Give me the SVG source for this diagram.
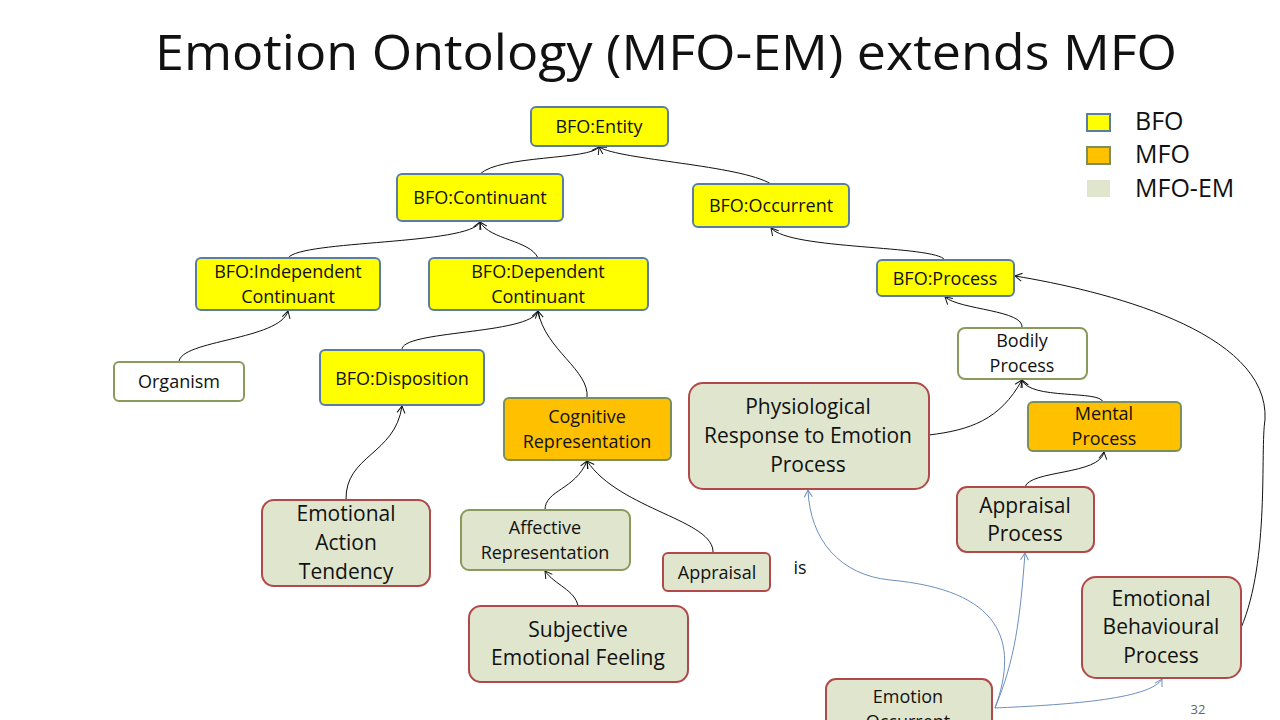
<svg xmlns="http://www.w3.org/2000/svg" width="1280" height="720" viewBox="0 0 1280 720">
<style>
text{font-family:"Open Sans","Liberation Sans",sans-serif;fill:#111;text-anchor:middle}
.b{fill:#ffff00;stroke:#5a7da6;stroke-width:2}
.m{fill:#ffc000;stroke:#7a8f5a;stroke-width:2}
.w{fill:#fff;stroke:#8a9a5b;stroke-width:2}
.g{fill:#dfe6cd;stroke:#8a9a5b;stroke-width:2}
.e{fill:#dfe6cd;stroke:#b04a4a;stroke-width:2}
.s{font-size:18px}.l{font-size:21px}
.c path{fill:none;stroke:#111;stroke-width:1}
.c path.u{stroke:#6d8fc0}
</style>
<defs>
<marker id="a" markerWidth="10" markerHeight="10" refX="8" refY="5" orient="auto" markerUnits="userSpaceOnUse"><path d="M1,1 L8,5 L1,9" fill="none" stroke="#111" stroke-width="1"/></marker>
<marker id="ab" markerWidth="10" markerHeight="10" refX="8" refY="5" orient="auto" markerUnits="userSpaceOnUse"><path d="M1,1 L8,5 L1,9" fill="none" stroke="#6d8fc0" stroke-width="1"/></marker>
</defs>
<rect width="1280" height="720" fill="#fff"/>
<text x="666" y="70" style="font-size:50px" textLength="1022" lengthAdjust="spacingAndGlyphs">Emotion Ontology (MFO-EM) extends MFO</text>
<g id="legend">
<rect x="1087" y="114" width="23" height="17" class="b" stroke-width="1.5"/><text x="1135" y="130" style="font-size:25px;text-anchor:start">BFO</text>
<rect x="1087" y="147" width="23" height="17" class="m" stroke-width="1.5"/><text x="1135" y="163" style="font-size:25px;text-anchor:start">MFO</text>
<rect x="1087" y="180" width="23" height="17" fill="#dfe6cd"/><text x="1135" y="197" style="font-size:25px;text-anchor:start">MFO-EM</text>
</g>
<g class="c">
<path d="M480,174 C500,155 590,160 599,147" marker-end="url(#a)"/>
<path d="M771,184 C740,165 620,160 599,147" marker-end="url(#a)"/>
<path d="M288,258 C300,240 470,245 480,222" marker-end="url(#a)"/>
<path d="M538,258 C530,240 490,240 480,222" marker-end="url(#a)"/>
<path d="M945,260 C935,245 790,250 771,228" marker-end="url(#a)"/>
<path d="M179,362 C180,340 280,340 288,311" marker-end="url(#a)"/>
<path d="M402,350 C400,330 530,335 538,311" marker-end="url(#a)"/>
<path d="M587,398 C590,370 545,350 538,311" marker-end="url(#a)"/>
<path d="M1022,328 C1025,310 960,310 945,297" marker-end="url(#a)"/>
<path d="M1103,402 C1100,390 1030,400 1022,380" marker-end="url(#a)"/>
<path d="M929,435 C970,430 1000,420 1022,380" marker-end="url(#a)"/>
<path d="M1025,487 C1030,470 1100,475 1104,452" marker-end="url(#a)"/>
<path d="M1241,628 C1270,560 1260,450 1265,420 C1270,330 1100,290 1015,276" marker-end="url(#a)"/>
<path d="M346,500 C345,455 395,455 402,406" marker-end="url(#a)"/>
<path d="M545,510 C545,490 575,490 587,461" marker-end="url(#a)"/>
<path d="M713,553 C715,520 620,510 587,461" marker-end="url(#a)"/>
<path d="M578,606 C575,590 555,585 545,571" marker-end="url(#a)"/>
<path class="u" d="M995,708 C1020,640 1000,590 890,580 C840,575 810,540 808,490" marker-end="url(#ab)"/>
<path class="u" d="M995,708 C1015,660 1020,620 1025,553" marker-end="url(#ab)"/>
<path class="u" d="M995,708 C1060,705 1150,700 1162,679" marker-end="url(#ab)"/>
</g>
<g id="entity"><rect x="531" y="107" width="137" height="39" rx="5" class="b"/><text x="599" y="133" class="s">BFO:Entity</text></g>
<g id="continuant"><rect x="397" y="174" width="166" height="47" rx="5" class="b"/><text x="480" y="204" class="s">BFO:Continuant</text></g>
<g id="occurrent"><rect x="693" y="184" width="156" height="43" rx="5" class="b"/><text x="771" y="212" class="s">BFO:Occurrent</text></g>
<g id="indep"><rect x="196" y="258" width="184" height="52" rx="5" class="b"/><text x="288" y="278" class="s">BFO:Independent</text><text x="288" y="303" class="s">Continuant</text></g>
<g id="dep"><rect x="429" y="258" width="219" height="52" rx="5" class="b"/><text x="538" y="278" class="s">BFO:Dependent</text><text x="538" y="303" class="s">Continuant</text></g>
<g id="process"><rect x="877" y="260" width="137" height="36" rx="5" class="b"/><text x="945" y="285" class="s">BFO:Process</text></g>
<g id="organism"><rect x="114" y="362" width="130" height="39" rx="5" class="w"/><text x="179" y="388" class="s">Organism</text></g>
<g id="disposition"><rect x="320" y="350" width="164" height="55" rx="5" class="b"/><text x="402" y="385" class="s">BFO:Disposition</text></g>
<g id="cogrep"><rect x="504" y="398" width="167" height="62" rx="5" class="m"/><text x="587" y="423" class="s">Cognitive</text><text x="587" y="448" class="s">Representation</text></g>
<g id="bodily"><rect x="958" y="328" width="129" height="51" rx="7" class="w"/><text x="1022" y="347" class="s">Bodily</text><text x="1022" y="372" class="s">Process</text></g>
<g id="mental"><rect x="1028" y="402" width="153" height="49" rx="5" class="m"/><text x="1104" y="420" class="s">Mental</text><text x="1104" y="445" class="s">Process</text></g>
<g id="physio"><rect x="689" y="383" width="240" height="106" rx="14" class="e"/><text x="808" y="414" class="l">Physiological</text><text x="808" y="443" class="l">Response to Emotion</text><text x="808" y="472" class="l">Process</text></g>
<g id="apprproc"><rect x="957" y="487" width="137" height="65" rx="10" class="e"/><text x="1025" y="513" class="l">Appraisal</text><text x="1025" y="541" class="l">Process</text></g>
<g id="eat"><rect x="262" y="500" width="168" height="86" rx="12" class="e"/><text x="346" y="521" class="l">Emotional</text><text x="346" y="550" class="l">Action</text><text x="346" y="579" class="l">Tendency</text></g>
<g id="affrep"><rect x="461" y="510" width="169" height="60" rx="8" class="g"/><text x="545" y="534" class="s">Affective</text><text x="545" y="559" class="s">Representation</text></g>
<g id="appraisal"><rect x="663" y="553" width="107" height="38" rx="5" class="e"/><text x="717" y="579" class="s">Appraisal</text></g>
<text x="800" y="574" class="s">is</text>
<g id="sef"><rect x="469" y="606" width="219" height="76" rx="12" class="e"/><text x="578" y="637" class="l">Subjective</text><text x="578" y="665" class="l">Emotional Feeling</text></g>
<g id="ebp"><rect x="1082" y="577" width="159" height="101" rx="14" class="e"/><text x="1161" y="606" class="l">Emotional</text><text x="1161" y="634" class="l">Behavioural</text><text x="1161" y="663" class="l">Process</text></g>
<g id="eo"><rect x="826" y="679" width="166" height="60" rx="10" class="e"/><text x="908" y="703" class="s">Emotion</text><text x="908" y="728" class="s">Occurrent</text></g>
<text x="1198" y="714" style="font-size:13px;fill:#666">32</text>
</svg>
